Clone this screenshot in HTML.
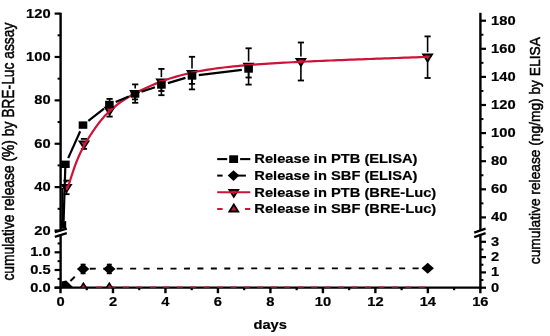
<!DOCTYPE html>
<html><head><meta charset="utf-8"><style>
html,body{margin:0;padding:0;background:#fff;}
svg{display:block;}
text{font-family:"Liberation Sans",Arial,sans-serif;fill:#000;}
</style></head><body>
<svg width="550" height="336" viewBox="0 0 550 336">
<rect width="550" height="336" fill="#fff"/>
<line x1="60.60" y1="12.80" x2="60.60" y2="231.00" stroke="#000" stroke-width="2.4" />
<line x1="54.60" y1="13.60" x2="60.60" y2="13.60" stroke="#000" stroke-width="2.2" />
<text transform="translate(50.60,17.60) scale(1.13,1)" text-anchor="end" font-size="13" font-weight="bold" stroke="#000" stroke-width="0.2">120</text>
<line x1="54.60" y1="56.98" x2="60.60" y2="56.98" stroke="#000" stroke-width="2.2" />
<text transform="translate(50.60,60.98) scale(1.13,1)" text-anchor="end" font-size="13" font-weight="bold" stroke="#000" stroke-width="0.2">100</text>
<line x1="54.60" y1="100.36" x2="60.60" y2="100.36" stroke="#000" stroke-width="2.2" />
<text transform="translate(50.60,104.36) scale(1.13,1)" text-anchor="end" font-size="13" font-weight="bold" stroke="#000" stroke-width="0.2">80</text>
<line x1="54.60" y1="143.74" x2="60.60" y2="143.74" stroke="#000" stroke-width="2.2" />
<text transform="translate(50.60,147.74) scale(1.13,1)" text-anchor="end" font-size="13" font-weight="bold" stroke="#000" stroke-width="0.2">60</text>
<line x1="54.60" y1="187.12" x2="60.60" y2="187.12" stroke="#000" stroke-width="2.2" />
<text transform="translate(50.60,191.12) scale(1.13,1)" text-anchor="end" font-size="13" font-weight="bold" stroke="#000" stroke-width="0.2">40</text>
<line x1="54.60" y1="230.50" x2="60.60" y2="230.50" stroke="#000" stroke-width="2.2" />
<text transform="translate(50.60,234.50) scale(1.13,1)" text-anchor="end" font-size="13" font-weight="bold" stroke="#000" stroke-width="0.2">20</text>
<line x1="57.60" y1="35.29" x2="60.60" y2="35.29" stroke="#000" stroke-width="2.0" />
<line x1="57.60" y1="78.67" x2="60.60" y2="78.67" stroke="#000" stroke-width="2.0" />
<line x1="57.60" y1="122.05" x2="60.60" y2="122.05" stroke="#000" stroke-width="2.0" />
<line x1="57.60" y1="165.43" x2="60.60" y2="165.43" stroke="#000" stroke-width="2.0" />
<line x1="57.60" y1="208.81" x2="60.60" y2="208.81" stroke="#000" stroke-width="2.0" />
<line x1="60.60" y1="236.00" x2="60.60" y2="288.80" stroke="#000" stroke-width="2.4" />
<line x1="54.60" y1="252.30" x2="60.60" y2="252.30" stroke="#000" stroke-width="2.2" />
<text transform="translate(50.60,256.30) scale(1.13,1)" text-anchor="end" font-size="13" font-weight="bold" stroke="#000" stroke-width="0.2">1.0</text>
<line x1="54.60" y1="270.00" x2="60.60" y2="270.00" stroke="#000" stroke-width="2.2" />
<text transform="translate(50.60,274.00) scale(1.13,1)" text-anchor="end" font-size="13" font-weight="bold" stroke="#000" stroke-width="0.2">0.5</text>
<line x1="54.60" y1="287.70" x2="60.60" y2="287.70" stroke="#000" stroke-width="2.2" />
<text transform="translate(50.60,291.70) scale(1.13,1)" text-anchor="end" font-size="13" font-weight="bold" stroke="#000" stroke-width="0.2">0.0</text>
<line x1="57.60" y1="243.45" x2="60.60" y2="243.45" stroke="#000" stroke-width="2.0" />
<line x1="57.60" y1="261.15" x2="60.60" y2="261.15" stroke="#000" stroke-width="2.0" />
<line x1="57.60" y1="278.85" x2="60.60" y2="278.85" stroke="#000" stroke-width="2.0" />
<line x1="480.40" y1="12.80" x2="480.40" y2="230.50" stroke="#000" stroke-width="2.4" />
<line x1="480.40" y1="20.70" x2="486.00" y2="20.70" stroke="#000" stroke-width="2.2" />
<text transform="translate(491.10,24.70) scale(1.13,1)" text-anchor="start" font-size="13" font-weight="bold" stroke="#000" stroke-width="0.2">180</text>
<line x1="480.40" y1="48.80" x2="486.00" y2="48.80" stroke="#000" stroke-width="2.2" />
<text transform="translate(491.10,52.80) scale(1.13,1)" text-anchor="start" font-size="13" font-weight="bold" stroke="#000" stroke-width="0.2">160</text>
<line x1="480.40" y1="76.90" x2="486.00" y2="76.90" stroke="#000" stroke-width="2.2" />
<text transform="translate(491.10,80.90) scale(1.13,1)" text-anchor="start" font-size="13" font-weight="bold" stroke="#000" stroke-width="0.2">140</text>
<line x1="480.40" y1="105.00" x2="486.00" y2="105.00" stroke="#000" stroke-width="2.2" />
<text transform="translate(491.10,109.00) scale(1.13,1)" text-anchor="start" font-size="13" font-weight="bold" stroke="#000" stroke-width="0.2">120</text>
<line x1="480.40" y1="133.10" x2="486.00" y2="133.10" stroke="#000" stroke-width="2.2" />
<text transform="translate(491.10,137.10) scale(1.13,1)" text-anchor="start" font-size="13" font-weight="bold" stroke="#000" stroke-width="0.2">100</text>
<line x1="480.40" y1="161.20" x2="486.00" y2="161.20" stroke="#000" stroke-width="2.2" />
<text transform="translate(491.10,165.20) scale(1.13,1)" text-anchor="start" font-size="13" font-weight="bold" stroke="#000" stroke-width="0.2">80</text>
<line x1="480.40" y1="189.30" x2="486.00" y2="189.30" stroke="#000" stroke-width="2.2" />
<text transform="translate(491.10,193.30) scale(1.13,1)" text-anchor="start" font-size="13" font-weight="bold" stroke="#000" stroke-width="0.2">60</text>
<line x1="480.40" y1="217.40" x2="486.00" y2="217.40" stroke="#000" stroke-width="2.2" />
<text transform="translate(491.10,221.40) scale(1.13,1)" text-anchor="start" font-size="13" font-weight="bold" stroke="#000" stroke-width="0.2">40</text>
<line x1="480.40" y1="34.75" x2="483.40" y2="34.75" stroke="#000" stroke-width="2.0" />
<line x1="480.40" y1="62.85" x2="483.40" y2="62.85" stroke="#000" stroke-width="2.0" />
<line x1="480.40" y1="90.95" x2="483.40" y2="90.95" stroke="#000" stroke-width="2.0" />
<line x1="480.40" y1="119.05" x2="483.40" y2="119.05" stroke="#000" stroke-width="2.0" />
<line x1="480.40" y1="147.15" x2="483.40" y2="147.15" stroke="#000" stroke-width="2.0" />
<line x1="480.40" y1="175.25" x2="483.40" y2="175.25" stroke="#000" stroke-width="2.0" />
<line x1="480.40" y1="203.35" x2="483.40" y2="203.35" stroke="#000" stroke-width="2.0" />
<line x1="480.40" y1="235.50" x2="480.40" y2="288.80" stroke="#000" stroke-width="2.4" />
<line x1="480.40" y1="287.70" x2="486.00" y2="287.70" stroke="#000" stroke-width="2.2" />
<text transform="translate(491.10,291.70) scale(1.13,1)" text-anchor="start" font-size="13" font-weight="bold" stroke="#000" stroke-width="0.2">0</text>
<line x1="480.40" y1="272.40" x2="486.00" y2="272.40" stroke="#000" stroke-width="2.2" />
<text transform="translate(491.10,276.40) scale(1.13,1)" text-anchor="start" font-size="13" font-weight="bold" stroke="#000" stroke-width="0.2">1</text>
<line x1="480.40" y1="257.10" x2="486.00" y2="257.10" stroke="#000" stroke-width="2.2" />
<text transform="translate(491.10,261.10) scale(1.13,1)" text-anchor="start" font-size="13" font-weight="bold" stroke="#000" stroke-width="0.2">2</text>
<line x1="480.40" y1="241.80" x2="486.00" y2="241.80" stroke="#000" stroke-width="2.2" />
<text transform="translate(491.10,245.80) scale(1.13,1)" text-anchor="start" font-size="13" font-weight="bold" stroke="#000" stroke-width="0.2">3</text>
<line x1="480.40" y1="280.05" x2="483.40" y2="280.05" stroke="#000" stroke-width="2.0" />
<line x1="480.40" y1="264.75" x2="483.40" y2="264.75" stroke="#000" stroke-width="2.0" />
<line x1="480.40" y1="249.45" x2="483.40" y2="249.45" stroke="#000" stroke-width="2.0" />
<line x1="54.60" y1="287.60" x2="481.60" y2="287.60" stroke="#000" stroke-width="2.4" />
<line x1="60.50" y1="287.60" x2="60.50" y2="293.20" stroke="#000" stroke-width="2.4" />
<text transform="translate(60.50,306.40) scale(1.13,1)" text-anchor="middle" font-size="13" font-weight="bold" stroke="#000" stroke-width="0.2">0</text>
<line x1="112.98" y1="287.60" x2="112.98" y2="293.20" stroke="#000" stroke-width="2.4" />
<text transform="translate(112.98,306.40) scale(1.13,1)" text-anchor="middle" font-size="13" font-weight="bold" stroke="#000" stroke-width="0.2">2</text>
<line x1="165.46" y1="287.60" x2="165.46" y2="293.20" stroke="#000" stroke-width="2.4" />
<text transform="translate(165.46,306.40) scale(1.13,1)" text-anchor="middle" font-size="13" font-weight="bold" stroke="#000" stroke-width="0.2">4</text>
<line x1="217.94" y1="287.60" x2="217.94" y2="293.20" stroke="#000" stroke-width="2.4" />
<text transform="translate(217.94,306.40) scale(1.13,1)" text-anchor="middle" font-size="13" font-weight="bold" stroke="#000" stroke-width="0.2">6</text>
<line x1="270.42" y1="287.60" x2="270.42" y2="293.20" stroke="#000" stroke-width="2.4" />
<text transform="translate(270.42,306.40) scale(1.13,1)" text-anchor="middle" font-size="13" font-weight="bold" stroke="#000" stroke-width="0.2">8</text>
<line x1="322.90" y1="287.60" x2="322.90" y2="293.20" stroke="#000" stroke-width="2.4" />
<text transform="translate(322.90,306.40) scale(1.13,1)" text-anchor="middle" font-size="13" font-weight="bold" stroke="#000" stroke-width="0.2">10</text>
<line x1="375.38" y1="287.60" x2="375.38" y2="293.20" stroke="#000" stroke-width="2.4" />
<text transform="translate(375.38,306.40) scale(1.13,1)" text-anchor="middle" font-size="13" font-weight="bold" stroke="#000" stroke-width="0.2">12</text>
<line x1="427.86" y1="287.60" x2="427.86" y2="293.20" stroke="#000" stroke-width="2.4" />
<text transform="translate(427.86,306.40) scale(1.13,1)" text-anchor="middle" font-size="13" font-weight="bold" stroke="#000" stroke-width="0.2">14</text>
<line x1="480.34" y1="287.60" x2="480.34" y2="293.20" stroke="#000" stroke-width="2.4" />
<text transform="translate(480.34,306.40) scale(1.13,1)" text-anchor="middle" font-size="13" font-weight="bold" stroke="#000" stroke-width="0.2">16</text>
<line x1="86.74" y1="287.60" x2="86.74" y2="290.20" stroke="#000" stroke-width="2.2" />
<line x1="139.22" y1="287.60" x2="139.22" y2="290.20" stroke="#000" stroke-width="2.2" />
<line x1="191.70" y1="287.60" x2="191.70" y2="290.20" stroke="#000" stroke-width="2.2" />
<line x1="244.18" y1="287.60" x2="244.18" y2="290.20" stroke="#000" stroke-width="2.2" />
<line x1="296.66" y1="287.60" x2="296.66" y2="290.20" stroke="#000" stroke-width="2.2" />
<line x1="349.14" y1="287.60" x2="349.14" y2="290.20" stroke="#000" stroke-width="2.2" />
<line x1="401.62" y1="287.60" x2="401.62" y2="290.20" stroke="#000" stroke-width="2.2" />
<line x1="454.10" y1="287.60" x2="454.10" y2="290.20" stroke="#000" stroke-width="2.2" />
<polygon points="53.80,233.40 67.80,229.80 67.80,232.40 53.80,236.00" fill="#fff"/>
<line x1="54.80" y1="232.20" x2="66.80" y2="228.60" stroke="#000" stroke-width="2.3" />
<line x1="54.80" y1="236.80" x2="66.80" y2="233.20" stroke="#000" stroke-width="2.3" />
<polygon points="473.20,233.80 486.60,229.80 486.60,232.40 473.20,236.40" fill="#fff"/>
<line x1="474.20" y1="232.60" x2="485.60" y2="228.60" stroke="#000" stroke-width="2.3" />
<line x1="474.20" y1="237.20" x2="485.60" y2="233.20" stroke="#000" stroke-width="2.3" />
<line x1="89" y1="287.05" x2="427.6" y2="287.05" stroke="#cc1438" stroke-width="1.3" stroke-dasharray="6 7.45" stroke-dashoffset="6.45"/>
<line x1="66.50" y1="180.60" x2="66.50" y2="182.50" stroke="#000" stroke-width="1.6" />
<line x1="66.50" y1="187.50" x2="66.50" y2="194.20" stroke="#000" stroke-width="1.6" />
<line x1="63.40" y1="180.60" x2="69.60" y2="180.60" stroke="#000" stroke-width="1.8" />
<line x1="63.40" y1="194.20" x2="69.60" y2="194.20" stroke="#000" stroke-width="1.8" />
<line x1="84.00" y1="138.90" x2="84.00" y2="139.00" stroke="#000" stroke-width="1.6" />
<line x1="84.00" y1="144.00" x2="84.00" y2="148.90" stroke="#000" stroke-width="1.6" />
<line x1="80.90" y1="138.90" x2="87.10" y2="138.90" stroke="#000" stroke-width="1.8" />
<line x1="80.90" y1="148.90" x2="87.10" y2="148.90" stroke="#000" stroke-width="1.8" />
<line x1="109.60" y1="98.90" x2="109.60" y2="105.30" stroke="#000" stroke-width="1.6" />
<line x1="109.60" y1="110.30" x2="109.60" y2="116.60" stroke="#000" stroke-width="1.6" />
<line x1="106.50" y1="98.90" x2="112.70" y2="98.90" stroke="#000" stroke-width="1.8" />
<line x1="106.50" y1="116.60" x2="112.70" y2="116.60" stroke="#000" stroke-width="1.8" />
<line x1="135.20" y1="84.40" x2="135.20" y2="88.60" stroke="#000" stroke-width="1.6" />
<line x1="135.20" y1="93.60" x2="135.20" y2="102.80" stroke="#000" stroke-width="1.6" />
<line x1="132.10" y1="84.40" x2="138.30" y2="84.40" stroke="#000" stroke-width="1.8" />
<line x1="132.10" y1="102.80" x2="138.30" y2="102.80" stroke="#000" stroke-width="1.8" />
<line x1="161.40" y1="68.90" x2="161.40" y2="77.10" stroke="#000" stroke-width="1.6" />
<line x1="161.40" y1="82.10" x2="161.40" y2="95.20" stroke="#000" stroke-width="1.6" />
<line x1="158.30" y1="68.90" x2="164.50" y2="68.90" stroke="#000" stroke-width="1.8" />
<line x1="158.30" y1="95.20" x2="164.50" y2="95.20" stroke="#000" stroke-width="1.8" />
<line x1="192.00" y1="56.80" x2="192.00" y2="68.60" stroke="#000" stroke-width="1.6" />
<line x1="192.00" y1="73.60" x2="192.00" y2="89.40" stroke="#000" stroke-width="1.6" />
<line x1="188.90" y1="56.80" x2="195.10" y2="56.80" stroke="#000" stroke-width="1.8" />
<line x1="188.90" y1="89.40" x2="195.10" y2="89.40" stroke="#000" stroke-width="1.8" />
<line x1="248.60" y1="48.30" x2="248.60" y2="61.40" stroke="#000" stroke-width="1.6" />
<line x1="248.60" y1="66.40" x2="248.60" y2="84.60" stroke="#000" stroke-width="1.6" />
<line x1="245.50" y1="48.30" x2="251.70" y2="48.30" stroke="#000" stroke-width="1.8" />
<line x1="245.50" y1="84.60" x2="251.70" y2="84.60" stroke="#000" stroke-width="1.8" />
<line x1="300.90" y1="42.50" x2="300.90" y2="56.50" stroke="#000" stroke-width="1.6" />
<line x1="300.90" y1="61.50" x2="300.90" y2="80.50" stroke="#000" stroke-width="1.6" />
<line x1="297.80" y1="42.50" x2="304.00" y2="42.50" stroke="#000" stroke-width="1.8" />
<line x1="297.80" y1="80.50" x2="304.00" y2="80.50" stroke="#000" stroke-width="1.8" />
<line x1="427.60" y1="36.40" x2="427.60" y2="52.20" stroke="#000" stroke-width="1.6" />
<line x1="427.60" y1="57.20" x2="427.60" y2="78.00" stroke="#000" stroke-width="1.6" />
<line x1="424.50" y1="36.40" x2="430.70" y2="36.40" stroke="#000" stroke-width="1.8" />
<line x1="424.50" y1="78.00" x2="430.70" y2="78.00" stroke="#000" stroke-width="1.8" />
<line x1="109.40" y1="104.50" x2="109.40" y2="104.50" stroke="#000" stroke-width="1.6" />
<line x1="106.30" y1="104.50" x2="112.50" y2="104.50" stroke="#000" stroke-width="1.8" />
<line x1="135.00" y1="94.00" x2="135.00" y2="99.40" stroke="#000" stroke-width="1.6" />
<line x1="131.90" y1="99.40" x2="138.10" y2="99.40" stroke="#000" stroke-width="1.8" />
<line x1="161.40" y1="85.00" x2="161.40" y2="91.00" stroke="#000" stroke-width="1.6" />
<line x1="158.30" y1="91.00" x2="164.50" y2="91.00" stroke="#000" stroke-width="1.8" />
<line x1="192.00" y1="76.00" x2="192.00" y2="83.90" stroke="#000" stroke-width="1.6" />
<line x1="188.90" y1="83.90" x2="195.10" y2="83.90" stroke="#000" stroke-width="1.8" />
<line x1="248.60" y1="69.00" x2="248.60" y2="77.50" stroke="#000" stroke-width="1.6" />
<line x1="245.50" y1="77.50" x2="251.70" y2="77.50" stroke="#000" stroke-width="1.8" />
<polygon points="62.04,184.80 70.96,184.80 66.50,191.79" fill="#cc1438" stroke="#000" stroke-width="1.8" stroke-linejoin="miter"/>
<polygon points="79.54,141.30 88.46,141.30 84.00,148.29" fill="#cc1438" stroke="#000" stroke-width="1.8" stroke-linejoin="miter"/>
<polygon points="105.14,107.60 114.06,107.60 109.60,114.59" fill="#cc1438" stroke="#000" stroke-width="1.8" stroke-linejoin="miter"/>
<polygon points="130.74,90.90 139.66,90.90 135.20,97.89" fill="#cc1438" stroke="#000" stroke-width="1.8" stroke-linejoin="miter"/>
<polygon points="156.94,79.40 165.86,79.40 161.40,86.39" fill="#cc1438" stroke="#000" stroke-width="1.8" stroke-linejoin="miter"/>
<polygon points="187.54,70.90 196.46,70.90 192.00,77.89" fill="#cc1438" stroke="#000" stroke-width="1.8" stroke-linejoin="miter"/>
<polygon points="244.14,63.70 253.06,63.70 248.60,70.69" fill="#cc1438" stroke="#000" stroke-width="1.8" stroke-linejoin="miter"/>
<polygon points="296.44,58.80 305.36,58.80 300.90,65.79" fill="#cc1438" stroke="#000" stroke-width="1.8" stroke-linejoin="miter"/>
<polygon points="423.14,54.50 432.06,54.50 427.60,61.49" fill="#cc1438" stroke="#000" stroke-width="1.8" stroke-linejoin="miter"/>
<path d="M66.00,189.72 L66.92,188.79 L67.83,186.93 L68.75,184.53 L69.66,181.84 L70.58,179.01 L71.49,176.16 L72.41,173.35 L73.32,170.62 L74.24,167.98 L75.15,165.43 L76.07,162.98 L76.98,160.64 L77.90,158.41 L78.81,156.27 L79.73,154.24 L80.64,152.31 L81.56,150.46 L82.47,148.68 L83.39,146.97 L84.31,145.31 L85.22,143.70 L86.14,142.13 L87.05,140.60 L87.97,139.10 L88.88,137.63 L89.80,136.19 L90.71,134.77 L91.63,133.36 L92.54,131.98 L93.46,130.62 L94.37,129.28 L95.29,127.96 L96.20,126.67 L97.12,125.40 L98.03,124.16 L98.95,122.96 L99.86,121.78 L100.78,120.64 L101.69,119.52 L102.61,118.44 L103.53,117.38 L104.44,116.35 L105.36,115.36 L106.27,114.39 L107.19,113.45 L108.10,112.53 L109.02,111.64 L109.93,110.78 L110.85,109.94 L111.76,109.12 L112.68,108.32 L113.59,107.54 L114.51,106.78 L115.42,106.04 L116.34,105.32 L117.25,104.61 L118.17,103.92 L119.08,103.25 L120.00,102.59 L121.00,101.88 L124.88,99.28 L128.76,96.87 L132.64,94.64 L136.52,92.55 L140.41,90.58 L144.29,88.71 L148.17,86.94 L152.05,85.25 L155.93,83.64 L159.81,82.12 L163.69,80.68 L167.57,79.32 L171.45,78.04 L175.33,76.85 L179.22,75.73 L183.10,74.69 L186.98,73.73 L190.86,72.84 L194.74,72.01 L198.62,71.25 L202.50,70.55 L206.38,69.90 L210.26,69.30 L214.14,68.74 L218.03,68.21 L221.91,67.72 L225.79,67.27 L229.67,66.84 L233.55,66.43 L237.43,66.05 L241.31,65.69 L245.19,65.35 L249.07,65.03 L252.95,64.72 L256.84,64.42 L260.72,64.14 L264.60,63.87 L268.48,63.62 L272.36,63.37 L276.24,63.14 L280.12,62.91 L284.00,62.69 L287.88,62.48 L291.76,62.27 L295.65,62.07 L299.53,61.88 L303.41,61.69 L307.29,61.51 L311.17,61.33 L315.05,61.16 L318.93,60.99 L322.81,60.82 L326.69,60.66 L330.57,60.49 L334.46,60.34 L338.34,60.18 L342.22,60.03 L346.10,59.87 L349.98,59.72 L353.86,59.58 L357.74,59.43 L361.62,59.28 L365.50,59.14 L369.38,58.99 L373.27,58.85 L377.15,58.71 L381.03,58.57 L384.91,58.43 L388.79,58.28 L392.67,58.14 L396.55,58.00 L400.43,57.86 L404.31,57.72 L408.19,57.58 L412.08,57.44 L415.96,57.30 L419.84,57.16 L423.72,57.02 L427.60,56.88" fill="none" stroke="#cc1438" stroke-width="2.2" stroke-linejoin="round"/>
<line x1="68.19" y1="158.10" x2="80.21" y2="131.30" stroke="#000" stroke-width="2.2" />
<line x1="88.36" y1="120.92" x2="104.04" y2="108.68" stroke="#000" stroke-width="2.2" />
<line x1="115.69" y1="101.92" x2="128.71" y2="96.58" stroke="#000" stroke-width="2.2" />
<line x1="141.44" y1="91.81" x2="154.96" y2="87.19" stroke="#000" stroke-width="2.2" />
<line x1="167.92" y1="83.08" x2="185.48" y2="77.92" stroke="#000" stroke-width="2.2" />
<line x1="198.75" y1="75.17" x2="241.85" y2="69.83" stroke="#000" stroke-width="2.2" />
<line x1="63.60" y1="221.00" x2="65.30" y2="167.50" stroke="#000" stroke-width="2.2" />
<line x1="62.50" y1="188.00" x2="62.30" y2="222.00" stroke="#000" stroke-width="1.8" />
<rect x="61.10" y="160.60" width="8.60" height="7.40" fill="#000"/>
<rect x="78.70" y="121.40" width="8.60" height="7.40" fill="#000"/>
<rect x="105.10" y="100.80" width="8.60" height="7.40" fill="#000"/>
<rect x="130.70" y="90.30" width="8.60" height="7.40" fill="#000"/>
<rect x="157.10" y="81.30" width="8.60" height="7.40" fill="#000"/>
<rect x="187.70" y="72.30" width="8.60" height="7.40" fill="#000"/>
<rect x="244.30" y="65.30" width="8.60" height="7.40" fill="#000"/>
<rect x="60.5" y="221.1" width="5.7" height="7.5" fill="#000"/>
<line x1="64.5" y1="286.5" x2="83.1" y2="269" stroke="#000" stroke-width="2.0" stroke-dasharray="6 7.45" stroke-dashoffset="5.35"/>
<polyline points="83.1,268.8 109.3,268.6 427.7,268.3" fill="none" stroke="#000" stroke-width="1.8" stroke-dasharray="6 7.45" stroke-dashoffset="-6.70"/>
<clipPath id="cl"><rect x="61" y="230" width="420" height="57.4"/></clipPath>
<g clip-path="url(#cl)">
<polygon points="78.70,290.55 88.10,290.55 83.40,283.12" fill="#cc1438" stroke="#000" stroke-width="1.5" stroke-linejoin="miter"/>
<polygon points="104.60,290.55 114.00,290.55 109.30,283.12" fill="#cc1438" stroke="#000" stroke-width="1.5" stroke-linejoin="miter"/>
<polygon points="61.5,281.6 66.2,280.6 72.4,286.6 72.6,287.6 61.5,287.6" fill="#000"/>
</g>
<line x1="83.10" y1="264.60" x2="83.10" y2="273.30" stroke="#000" stroke-width="1.6" />
<line x1="80.60" y1="264.60" x2="85.60" y2="264.60" stroke="#000" stroke-width="1.8" />
<line x1="80.60" y1="273.30" x2="85.60" y2="273.30" stroke="#000" stroke-width="1.8" />
<line x1="109.30" y1="264.60" x2="109.30" y2="273.30" stroke="#000" stroke-width="1.6" />
<line x1="106.80" y1="264.60" x2="111.80" y2="264.60" stroke="#000" stroke-width="1.8" />
<line x1="106.80" y1="273.30" x2="111.80" y2="273.30" stroke="#000" stroke-width="1.8" />
<polygon points="83.10,263.50 89.30,269.00 83.10,274.50 76.90,269.00" fill="#000"/>
<polygon points="109.30,263.50 115.50,269.00 109.30,274.50 103.10,269.00" fill="#000"/>
<polygon points="427.70,262.80 433.90,268.30 427.70,273.80 421.50,268.30" fill="#000"/>
<text transform="translate(254.30,163.40) scale(1.13,1)" text-anchor="start" font-size="13" font-weight="bold" stroke="#000" stroke-width="0.2">Release in PTB (ELISA)</text>
<text transform="translate(254.30,180.05) scale(1.13,1)" text-anchor="start" font-size="13" font-weight="bold" stroke="#000" stroke-width="0.2">Release in SBF (ELISA)</text>
<text transform="translate(254.30,196.70) scale(1.13,1)" text-anchor="start" font-size="13" font-weight="bold" stroke="#000" stroke-width="0.2">Release in PTB (BRE-Luc)</text>
<text transform="translate(254.30,213.35) scale(1.13,1)" text-anchor="start" font-size="13" font-weight="bold" stroke="#000" stroke-width="0.2">Release in SBF (BRE-Luc)</text>
<line x1="217.20" y1="159.10" x2="227.20" y2="159.10" stroke="#000" stroke-width="2.1" />
<line x1="240.10" y1="159.10" x2="250.30" y2="159.10" stroke="#000" stroke-width="2.1" />
<rect x="229.20" y="155.30" width="8.90" height="7.70" fill="#000"/>
<line x1="217.20" y1="175.60" x2="222.60" y2="175.60" stroke="#000" stroke-width="2.0" />
<line x1="233.50" y1="175.60" x2="245.90" y2="175.60" stroke="#000" stroke-width="2.0" />
<polygon points="233.50,170.25 239.30,175.60 233.50,180.95 227.70,175.60" fill="#000"/>
<polygon points="229.34,189.80 238.26,189.80 233.80,196.79" fill="#cc1438" stroke="#000" stroke-width="1.8" stroke-linejoin="miter"/>
<line x1="217.20" y1="192.30" x2="250.30" y2="192.30" stroke="#cc1438" stroke-width="2.0" />
<line x1="217.20" y1="209.00" x2="222.60" y2="209.00" stroke="#cc1438" stroke-width="2.0" />
<line x1="245.00" y1="209.00" x2="250.30" y2="209.00" stroke="#cc1438" stroke-width="2.0" />
<polygon points="229.34,211.50 238.26,211.50 233.80,204.51" fill="#cc1438" stroke="#000" stroke-width="1.8" stroke-linejoin="miter"/>
<text transform="translate(14.3,151.6) scale(1.13,1) rotate(-90)" text-anchor="middle" font-size="13.82" font-weight="normal" stroke="#000" stroke-width="0.45">cumulative release (%) by BRE-Luc assay</text>
<text transform="translate(539.8,150.7) scale(1.13,1) rotate(-90)" text-anchor="middle" font-size="13.76" font-weight="normal" stroke="#000" stroke-width="0.45">cumulative release (ng/mg) by ELISA</text>
<text transform="translate(270.15,328.50) scale(1.13,1)" text-anchor="middle" font-size="13" font-weight="bold" stroke="#000" stroke-width="0.2">days</text>
</svg>
</body></html>
